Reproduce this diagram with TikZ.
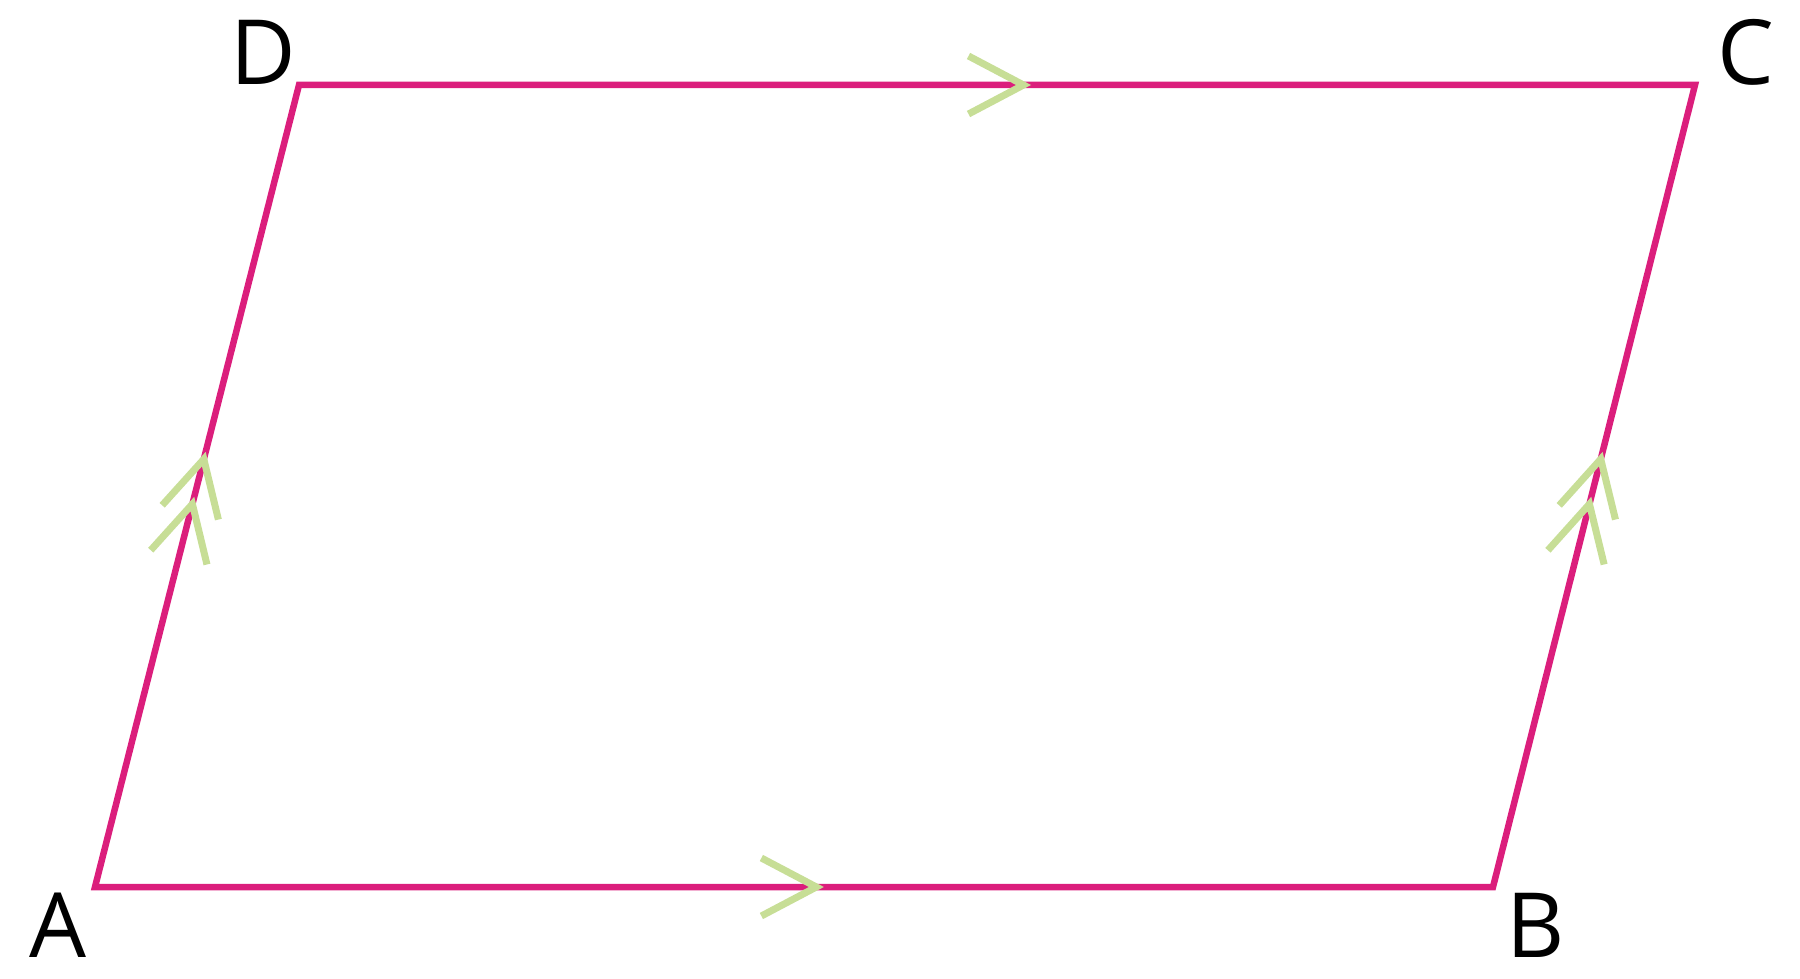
\documentclass[tikz,border=0pt]{standalone}
\usepackage{fontspec}
\setmainfont{Open Sans}
\usetikzlibrary{calc}
\definecolor{edgepink}{RGB}{219,30,124}
\definecolor{tickgreen}{RGB}{199,222,150}
\begin{document}
\begin{tikzpicture}[x=1pt,y=1pt,
  edge/.style={draw=edgepink,line width=6.5pt,miter limit=10},
  tick/.style={draw=tickgreen,line width=7pt},
  lbl/.style={inner sep=0pt,anchor=base,font=\fontsize{90}{100}\selectfont},
  chev/.pic={\draw[tick] (-55,29) -- (0,0) -- (-55,-29);}]
\useasboundingbox (0,0) rectangle (1800,978);
\coordinate (A) at (95,91);
\coordinate (B) at (1493,91);
\coordinate (C) at (1695,893);
\coordinate (D) at (299,893);
\draw[edge] (A) -- (B) -- (C) -- (D) -- cycle;
\pic[rotate=0] at ($(A)!0.516!(B)$) {chev};
\pic[rotate=0] at ($(D)!0.519!(C)$) {chev};
\pic[rotate=75.73] at ($(A)!0.5335!(D)$) {chev};
\pic[rotate=75.73] at ($(A)!0.4775!(D)$) {chev};
\pic[rotate=75.86] at ($(B)!0.5335!(C)$) {chev};
\pic[rotate=75.86] at ($(B)!0.4775!(C)$) {chev};
\node[lbl] (lA) at (57.5,21) {A};
\node[lbl] (lB) at (1536,21) {B};
\node[lbl] (lC) at (1746,893) {C};
\node[lbl] (lD) at (263,893) {D};
\end{tikzpicture}
\end{document}
